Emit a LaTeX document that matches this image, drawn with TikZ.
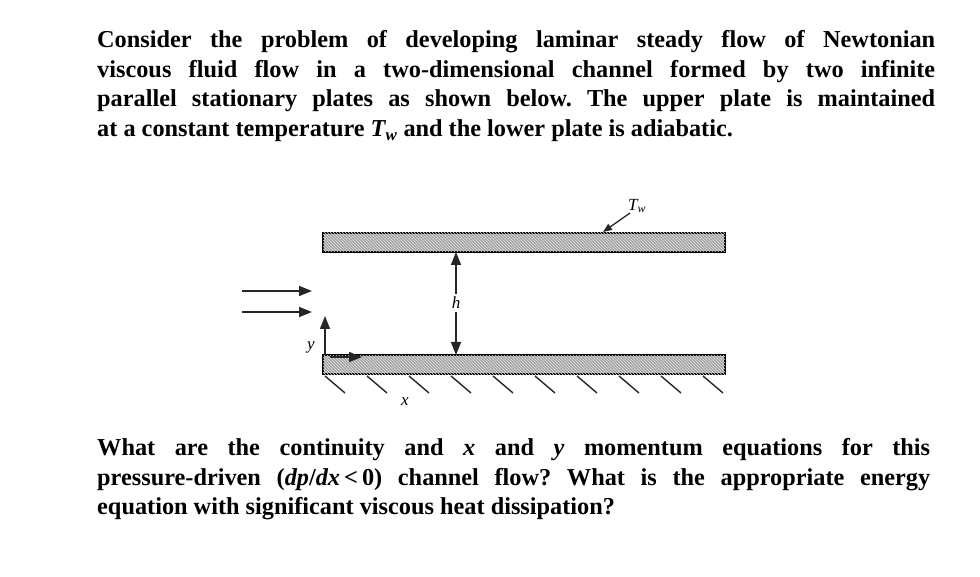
\documentclass[tikz,border=0pt]{standalone}
\usepackage{fontspec}
\setmainfont{Liberation Serif}
\usetikzlibrary{patterns,arrows.meta}
\frenchspacing
\begin{document}
\begin{tikzpicture}[x=1pt,y=-1pt,
  plate/.style={draw=black,line width=1.4pt,fill=gray!70,postaction={pattern=north west lines,pattern color=gray!25}},
  ar/.style={-{Triangle[length=13pt,width=10pt]},line width=1.5pt,draw=black!85},
  lbl/.style={font=\itshape\fontsize{17}{19}\selectfont,inner sep=0pt},
  para/.style={anchor=north west,inner sep=0pt,text width=838pt,align=justify,font=\bfseries\fontsize{24.3}{29.7}\selectfont}]
\useasboundingbox (0,0) rectangle (980,577);
\node[para] (p1) at (97,30) {Consider the problem of developing laminar steady flow of Newtonian\linebreak viscous fluid flow in a two-dimensional channel formed by two infinite\linebreak parallel stationary plates as shown below. The upper plate is maintained\linebreak at a constant temperature \textit{T\textsubscript{w}} and the lower plate is adiabatic.};
\node[para,text width=833pt] (p2) at (97,438) {What are the continuity and \textit{x} and \textit{y} momentum equations for this\linebreak pressure-driven (\textit{dp}/\textit{dx}\,<\,0) channel flow? What is the appropriate energy\linebreak equation with significant viscous heat dissipation?};
\path[plate] (323,233) rectangle (725,252);
\path[plate] (323,355) rectangle (725,374);
\coordinate (top) at (456,252);
\coordinate (bot) at (456,355);
\node[lbl,fill=white,inner sep=3pt] (h) at (456,303) {h};
\draw[ar] (h.north) -- (top);
\draw[ar] (h.south) -- (bot);
\node[lbl] (tw) at (637,206) {T\textsubscript{w}};
\coordinate (twp) at (603,232);
\draw[ar,-{Triangle[length=9pt,width=7pt]},line width=1.3pt] (630,213) -- (twp);
\coordinate (i1) at (242,291); \coordinate (e1) at (312,291);
\coordinate (i2) at (242,312); \coordinate (e2) at (312,312);
\draw[ar] (i1) -- (e1);
\draw[ar] (i2) -- (e2);
\coordinate (o) at (325,355);
\coordinate (yy) at (325,316);
\coordinate (xx) at (362,357);
\draw[ar] (o) -- (yy);
\draw[ar] (330,357) -- (xx);
\node[lbl] (yl) at (311,347) {y};
\node[lbl] (xl) at (405,402) {x};
\foreach \i in {0,...,9} \draw[line width=1.4pt,black!85] (325+42*\i,376) -- (345+42*\i,393);
\end{tikzpicture}
\end{document}
